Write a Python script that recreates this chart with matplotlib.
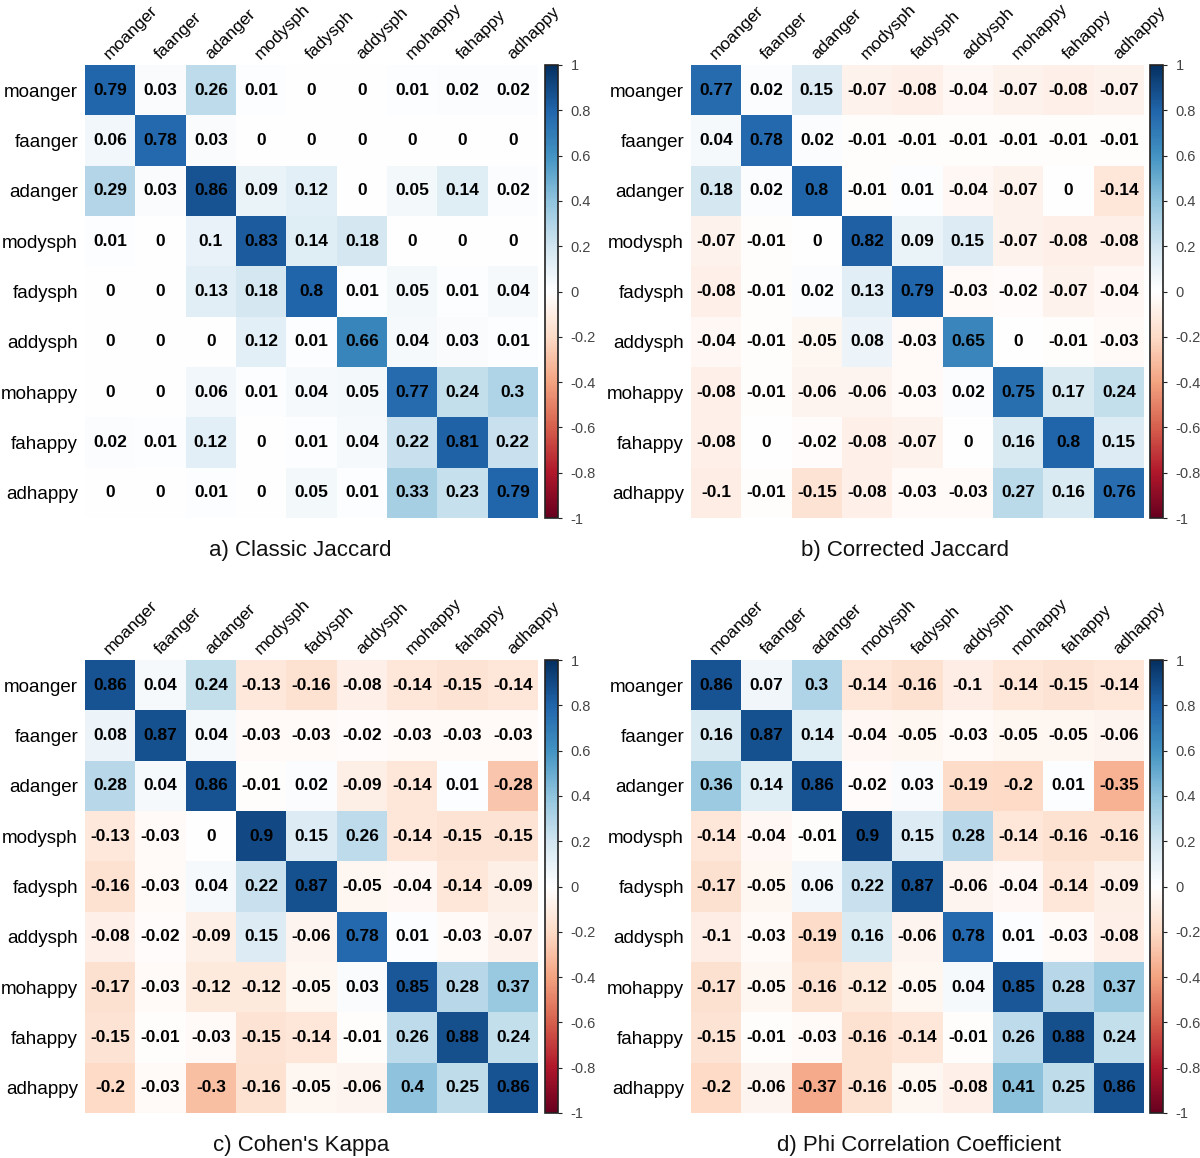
import numpy as np
import matplotlib
matplotlib.use('Agg')
import matplotlib.pyplot as plt
from matplotlib.colors import LinearSegmentedColormap

plt.rcParams['font.family'] = ['Liberation Sans', 'DejaVu Sans']

labels = ['moanger', 'faanger', 'adanger', 'modysph', 'fadysph', 'addysph', 'mohappy', 'fahappy', 'adhappy']

classic_jaccard = [
    [0.79, 0.03, 0.26, 0.01, 0, 0, 0.01, 0.02, 0.02],
    [0.06, 0.78, 0.03, 0, 0, 0, 0, 0, 0],
    [0.29, 0.03, 0.86, 0.09, 0.12, 0, 0.05, 0.14, 0.02],
    [0.01, 0, 0.1, 0.83, 0.14, 0.18, 0, 0, 0],
    [0, 0, 0.13, 0.18, 0.8, 0.01, 0.05, 0.01, 0.04],
    [0, 0, 0, 0.12, 0.01, 0.66, 0.04, 0.03, 0.01],
    [0, 0, 0.06, 0.01, 0.04, 0.05, 0.77, 0.24, 0.3],
    [0.02, 0.01, 0.12, 0, 0.01, 0.04, 0.22, 0.81, 0.22],
    [0, 0, 0.01, 0, 0.05, 0.01, 0.33, 0.23, 0.79],
]

corrected_jaccard = [
    [0.77, 0.02, 0.15, -0.07, -0.08, -0.04, -0.07, -0.08, -0.07],
    [0.04, 0.78, 0.02, -0.01, -0.01, -0.01, -0.01, -0.01, -0.01],
    [0.18, 0.02, 0.8, -0.01, 0.01, -0.04, -0.07, 0, -0.14],
    [-0.07, -0.01, 0, 0.82, 0.09, 0.15, -0.07, -0.08, -0.08],
    [-0.08, -0.01, 0.02, 0.13, 0.79, -0.03, -0.02, -0.07, -0.04],
    [-0.04, -0.01, -0.05, 0.08, -0.03, 0.65, 0, -0.01, -0.03],
    [-0.08, -0.01, -0.06, -0.06, -0.03, 0.02, 0.75, 0.17, 0.24],
    [-0.08, 0, -0.02, -0.08, -0.07, 0, 0.16, 0.8, 0.15],
    [-0.1, -0.01, -0.15, -0.08, -0.03, -0.03, 0.27, 0.16, 0.76],
]

cohens_kappa = [
    [0.86, 0.04, 0.24, -0.13, -0.16, -0.08, -0.14, -0.15, -0.14],
    [0.08, 0.87, 0.04, -0.03, -0.03, -0.02, -0.03, -0.03, -0.03],
    [0.28, 0.04, 0.86, -0.01, 0.02, -0.09, -0.14, 0.01, -0.28],
    [-0.13, -0.03, 0, 0.9, 0.15, 0.26, -0.14, -0.15, -0.15],
    [-0.16, -0.03, 0.04, 0.22, 0.87, -0.05, -0.04, -0.14, -0.09],
    [-0.08, -0.02, -0.09, 0.15, -0.06, 0.78, 0.01, -0.03, -0.07],
    [-0.17, -0.03, -0.12, -0.12, -0.05, 0.03, 0.85, 0.28, 0.37],
    [-0.15, -0.01, -0.03, -0.15, -0.14, -0.01, 0.26, 0.88, 0.24],
    [-0.2, -0.03, -0.3, -0.16, -0.05, -0.06, 0.4, 0.25, 0.86],
]

phi_coef = [
    [0.86, 0.07, 0.3, -0.14, -0.16, -0.1, -0.14, -0.15, -0.14],
    [0.16, 0.87, 0.14, -0.04, -0.05, -0.03, -0.05, -0.05, -0.06],
    [0.36, 0.14, 0.86, -0.02, 0.03, -0.19, -0.2, 0.01, -0.35],
    [-0.14, -0.04, -0.01, 0.9, 0.15, 0.28, -0.14, -0.16, -0.16],
    [-0.17, -0.05, 0.06, 0.22, 0.87, -0.06, -0.04, -0.14, -0.09],
    [-0.1, -0.03, -0.19, 0.16, -0.06, 0.78, 0.01, -0.03, -0.08],
    [-0.17, -0.05, -0.16, -0.12, -0.05, 0.04, 0.85, 0.28, 0.37],
    [-0.15, -0.01, -0.03, -0.16, -0.14, -0.01, 0.26, 0.88, 0.24],
    [-0.2, -0.06, -0.37, -0.16, -0.05, -0.08, 0.41, 0.25, 0.86],
]

titles = ['a) Classic Jaccard', 'b) Corrected Jaccard', "c) Cohen's Kappa", 'd) Phi Correlation Coefficient']

# RdBu but with a pure white centre (floats, so the colormap is not indexed by int)
stops = [0.0, 0.1, 0.2, 0.3, 0.4, 0.6, 0.7, 0.8, 0.9, 1.0]
cols = [plt.cm.RdBu(s) for s in stops]
cmap = LinearSegmentedColormap.from_list(
    'rdbu_w', list(zip(stops[:5], cols[:5])) + [(0.5, (1, 1, 1, 1))] + list(zip(stops[5:], cols[5:])))

W, H = 1200, 1158
fig = plt.figure(figsize=(12, 11.58), dpi=100)

# pixel boxes: (heatmap left, heatmap top, colorbar left, title centre x, title y)
panels = [
    (85, 65, 545, 300, 550),
    (691, 65, 1150, 905, 550),
    (85, 660, 545, 301, 1145),
    (691, 660, 1150, 919, 1145),
]
size = 453

for data, title, (hx, hy, cx, tx, ty) in zip([classic_jaccard, corrected_jaccard, cohens_kappa, phi_coef], titles, panels):
    m = np.array(data)
    ax = fig.add_axes([hx / W, 1 - (hy + size) / H, size / W, size / H])
    im = ax.pcolormesh(m, cmap=cmap, vmin=-1, vmax=1)
    ax.set_xlim(0, 9)
    ax.set_ylim(9, 0)
    for i in range(9):
        for j in range(9):
            ax.text(j + 0.5, i + 0.5, format(m[i, j], 'g'), ha='center', va='center',
                    fontsize=12.5, fontweight='bold', color='black')
    ax.xaxis.tick_top()
    ax.set_xticks(np.arange(9) + 0.5)
    ax.set_yticks(np.arange(9) + 0.5)
    ax.set_xticklabels(labels, rotation=45, ha='left', va='baseline', rotation_mode='anchor', fontsize=12.5)
    ax.set_yticklabels(labels, fontsize=13.5)
    ax.tick_params(axis='y', length=0, pad=5)
    ax.tick_params(axis='x', length=0, pad=4)
    for s in ax.spines.values():
        s.set_visible(False)

    cax = fig.add_axes([cx / W, 1 - (hy + size) / H, 13 / W, size / H])
    cb = fig.colorbar(im, cax=cax, ticks=np.linspace(-1, 1, 11))
    cb.ax.set_yticklabels([format(round(t, 1), 'g') for t in np.linspace(-1, 1, 11)])
    cb.ax.tick_params(labelsize=10.5, length=3, width=0.8, colors='#222222', labelcolor='#444444', pad=6)
    cb.outline.set_linewidth(1.2)
    cb.outline.set_edgecolor('#222222')

    fig.text(tx / W, 1 - ty / H, title, ha='center', va='center', fontsize=16, color='#111111')

fig.savefig('out.png', dpi=100)
